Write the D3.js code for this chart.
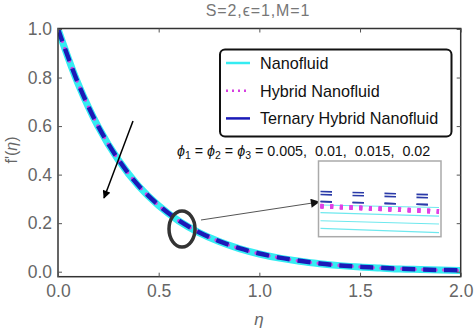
<!DOCTYPE html>
<html>
<head>
<meta charset="utf-8">
<script src="https://cdn.jsdelivr.net/npm/d3@7"></script>
<style>
  html, body { margin: 0; padding: 0; background: #fff; }
  svg { display: block; font-family: "Liberation Sans", Arial, sans-serif; }
</style>
</head>
<body>
<svg id="chart" width="474" height="332"></svg>
<script>
// Velocity profile f'(eta) for three fluid types
const eta = [0, 0.1, 0.2, 0.3, 0.4, 0.5, 0.6, 0.7, 0.8, 0.9, 1.0,
             1.1, 1.2, 1.3, 1.4, 1.5, 1.6, 1.7, 1.8, 1.9, 2.0];
const nanofluid = [1.0, 0.774, 0.597, 0.460, 0.353, 0.272, 0.209, 0.161, 0.124, 0.095, 0.073,
                   0.056, 0.043, 0.033, 0.025, 0.019, 0.015, 0.011, 0.009, 0.007, 0.005];
const hybrid    = [1.0, 0.775, 0.598, 0.461, 0.354, 0.273, 0.210, 0.162, 0.125, 0.096, 0.074,
                   0.057, 0.044, 0.034, 0.026, 0.020, 0.015, 0.012, 0.009, 0.007, 0.005];
const ternary   = [1.0, 0.776, 0.599, 0.462, 0.355, 0.274, 0.211, 0.163, 0.126, 0.097, 0.075,
                   0.058, 0.045, 0.034, 0.026, 0.020, 0.016, 0.012, 0.009, 0.007, 0.006];

const xTicks = [0, 0.5, 1.0, 1.5, 2.0];
const yTicks = [0, 0.2, 0.4, 0.6, 0.8, 1.0];

// Magnified window near eta ≈ 0.62: one line per volume fraction
const insetEta = [0.620, 0.621];
const insetNano = [[0.20419, 0.20386], [0.20317, 0.20273], [0.20211, 0.20168], [0.20111, 0.20053]];
const insetHybrid = [[0.20405, 0.20335], [0.20404, 0.20334], [0.20403, 0.20333], [0.20402, 0.20332]];
const insetTernary = [[0.20597, 0.20551], [0.20557, 0.20511], [0.20465, 0.20419], [0.20465, 0.20419]];

const legendNames = ["Nanofluid", "Hybrid Nanofluid", "Ternary Hybrid Nanofluid"];
const phiValues = ["0.005", "0.01", "0.015", "0.02"];

const svg = d3.select("#chart");
const L = 58, R = 460.7, T = 28.5, B = 276.7;

const x = d3.scaleLinear().domain([0, 2]).range([L, R]);
const y = d3.scaleLinear().domain([-0.0206, 1.0]).range([B, 29]);

const styles = {
  nano:    { stroke: "#35ecf2", width: 7, dash: null },
  hybrid:  { stroke: "#d63ee0", width: 3.5, dash: "2.5,8" },
  ternary: { stroke: "#1a1ab8", width: 4.5, dash: "13,8" }
};

// Title
svg.append("text").attr("x", 258).attr("y", 16).attr("text-anchor", "middle")
  .attr("font-size", 16).attr("letter-spacing", 0.9).attr("fill", "#777").text("S=2,\u03F5=1,M=1");

// Curves
svg.append("clipPath").attr("id", "plotClip")
  .append("rect").attr("x", L).attr("y", T).attr("width", R - L).attr("height", B - T);

const line = d3.line().x((d, i) => x(eta[i])).y(d => y(d)).curve(d3.curveCatmullRom);
const g = svg.append("g").attr("clip-path", "url(#plotClip)");
[[nanofluid, styles.nano], [hybrid, styles.hybrid], [ternary, styles.ternary]].forEach(([vals, s]) => {
  g.append("path").attr("d", line(vals)).attr("fill", "none")
    .attr("stroke", s.stroke).attr("stroke-width", s.width)
    .attr("stroke-dasharray", s.dash)
    .attr("stroke-linecap", s === styles.hybrid ? "round" : "butt");
});

// Frame
svg.append("rect").attr("x", L).attr("y", T).attr("width", R - L).attr("height", B - T)
  .attr("fill", "none").attr("stroke", "#333").attr("stroke-width", 1.5);

// Axes (ticks inward on all four sides)
const axStyle = sel => {
  sel.select(".domain").remove();
  sel.selectAll(".tick line").attr("stroke", "#555").attr("stroke-width", 1);
  sel.selectAll(".tick text").attr("fill", "#666").attr("font-size", 17.5)
    .attr("font-family", "Liberation Sans, Arial, sans-serif");
};
svg.append("g").attr("transform", `translate(0,${B})`)
  .call(d3.axisBottom(x).tickValues(xTicks).tickFormat(d3.format(".1f")).tickSize(-4).tickPadding(8))
  .call(axStyle);
svg.append("g").attr("transform", `translate(${L},0)`)
  .call(d3.axisLeft(y).tickValues(yTicks).tickFormat(d3.format(".1f")).tickSize(-4).tickPadding(6))
  .call(axStyle);
svg.append("g").attr("transform", `translate(0,${T})`)
  .call(d3.axisTop(x).tickValues(xTicks).tickFormat("").tickSize(-4)).call(axStyle);
svg.append("g").attr("transform", `translate(${R},0)`)
  .call(d3.axisRight(y).tickValues(yTicks).tickFormat("").tickSize(-4)).call(axStyle);

// Axis labels
svg.append("text").attr("x", 259).attr("y", 325).attr("text-anchor", "middle")
  .attr("font-size", 17).attr("font-style", "italic").attr("fill", "#666").text("\u03B7");
svg.append("text").attr("transform", "translate(17,150) rotate(-90)").attr("text-anchor", "middle")
  .attr("font-size", 16).attr("fill", "#666")
  .html("f'(<tspan font-style='italic'>\u03B7</tspan>)");

// Legend
svg.append("rect").attr("x", 220).attr("y", 49.5).attr("width", 231.5).attr("height", 87)
  .attr("rx", 5).attr("fill", "#fff").attr("stroke", "#111").attr("stroke-width", 2);
const legStyles = [styles.nano, styles.hybrid, styles.ternary];
legendNames.forEach((name, i) => {
  const ly = 63 + i * 27.7;
  const s = legStyles[i];
  svg.append("line").attr("x1", 226).attr("x2", 250).attr("y1", ly).attr("y2", ly)
    .attr("stroke", s.stroke).attr("stroke-width", 2.5)
    .attr("stroke-dasharray", i === 1 ? "2,4" : null);
  svg.append("text").attr("x", 260).attr("y", ly + 6).attr("font-size", 16.2)
    .attr("fill", "#111").text(name);
});

// Volume fraction annotation
const ann = svg.append("text").attr("x", 177).attr("y", 156).attr("font-size", 14.3)
  .attr("fill", "#111").style("white-space", "pre");
[["\u03D5", "1", " = "], ["\u03D5", "2", " = "], ["\u03D5", "3", " = " + phiValues.join(",  ")]]
  .forEach(([sym, sub, rest]) => {
    ann.append("tspan").attr("font-style", "italic").text(sym);
    ann.append("tspan").attr("font-size", 10.5).attr("dy", 3).text(sub);
    ann.append("tspan").attr("dy", -3).text(rest);
  });

// Direction arrow for increasing volume fraction
const defs = svg.append("defs");
defs.append("marker").attr("id", "head").attr("viewBox", "0 0 10 10").attr("refX", 9).attr("refY", 5)
  .attr("markerWidth", 10).attr("markerHeight", 8).attr("markerUnits", "userSpaceOnUse")
  .attr("orient", "auto").append("path").attr("d", "M0,0 L10,5 L0,10 Z").attr("fill", "#000");
defs.append("marker").attr("id", "head2").attr("viewBox", "0 0 10 10").attr("refX", 9).attr("refY", 5)
  .attr("markerWidth", 12).attr("markerHeight", 9).attr("markerUnits", "userSpaceOnUse")
  .attr("orient", "auto").append("path").attr("d", "M0,0 L10,5 L0,10 Z").attr("fill", "#111");
svg.append("line").attr("x1", 133).attr("y1", 121).attr("x2", 104).attr("y2", 198)
  .attr("stroke", "#000").attr("stroke-width", 1.5).attr("marker-end", "url(#head)");

// Zoom ellipse and pointer
svg.append("ellipse").attr("cx", 182).attr("cy", 229).attr("rx", 13).attr("ry", 18)
  .attr("fill", "none").attr("stroke", "#333").attr("stroke-width", 3.5);
svg.append("line").attr("x1", 201).attr("y1", 220).attr("x2", 319).attr("y2", 202)
  .attr("stroke", "#555").attr("stroke-width", 1).attr("marker-end", "url(#head2)");

// Inset
const IL = 318.5, IR = 441, IT = 161, IB = 236.7;
svg.append("rect").attr("x", IL).attr("y", IT).attr("width", IR - IL).attr("height", IB - IT)
  .attr("fill", "#fff").attr("stroke", "#aaa").attr("stroke-width", 1.5);
const ix = d3.scaleLinear().domain(insetEta).range([IL + 2, IR - 2]);
const iy = d3.scaleLinear().domain([0.2000, 0.2100]).range([IB, IT]);
const iline = d3.line().x((d, i) => ix(insetEta[i])).y(d => iy(d));
insetNano.forEach(v => svg.append("path").attr("d", iline(v)).attr("fill", "none")
  .attr("stroke", "#6ee8ee").attr("stroke-width", 1.2));
insetHybrid.forEach(v => svg.append("path").attr("d", iline(v)).attr("fill", "none")
  .attr("stroke", "#e040e6").attr("stroke-width", 4.5).attr("stroke-dasharray", "3,6.7"));
insetTernary.forEach(v => svg.append("path").attr("d", iline(v)).attr("fill", "none")
  .attr("stroke", "#2a3aa8").attr("stroke-width", 1.6).attr("stroke-dasharray", "11.5,20.5"));
</script>
</body>
</html>
